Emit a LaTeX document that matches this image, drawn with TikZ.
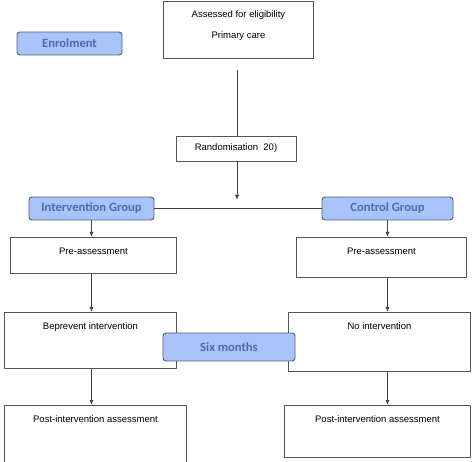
\documentclass[tikz,border=0pt]{standalone}
\usepackage{fontspec}
\setmainfont{Liberation Sans}
\newfontfamily\labelfont{Carlito}
\usetikzlibrary{arrows.meta}
\definecolor{boxline}{HTML}{555555}
\definecolor{arrowline}{HTML}{404040}
\definecolor{tagfill}{HTML}{A8C4F8}
\definecolor{tagline}{HTML}{4E5F7E}
\definecolor{tagtext}{HTML}{4A6BB0}
\begin{document}
\begin{tikzpicture}[x=1pt, y=-1pt,
    every node/.style={font=\fontsize{9.5}{11}\selectfont},
    stagebox/.style={draw=boxline, line width=0.9pt, fill=white, anchor=north west,
        inner ysep=10pt, text height=7pt},
    tagbox/.style={draw=tagline, line width=0.9pt, fill=tagfill, rounded corners=3pt,
        text=tagtext, font=\labelfont\bfseries\fontsize{12.6}{14}\selectfont},
    flow/.style={draw=arrowline, line width=0.9pt}]

        \useasboundingbox (0,0) rectangle (474,462);

        \node[draw=boxline, line width=0.9pt, anchor=north west, align=center, minimum width=150pt, minimum height=57pt] (Assess) at (163,1) {Assessed for eligibility\\[10pt]Primary care\\[0pt]\rule{0pt}{9pt}};
        \node[draw=boxline, line width=0.9pt, minimum width=120pt, minimum height=25pt] (Rand) at (236,148.5) {Randomisation\ \ 20)};
        \node[stagebox, minimum width=166pt, text depth=9pt] (PreI) at (10,237) {Pre-assessment};
        \node[stagebox, minimum width=170pt, text depth=13pt] (PreC) at (296,237) {Pre-assessment};
        \node[stagebox, minimum width=172pt, text depth=29pt] (IntI) at (4,312) {Beprevent intervention};
        \node[stagebox, minimum width=182pt, text depth=32pt] (NoC) at (288,312) {No intervention};
        \node[stagebox, minimum width=182pt, text depth=30pt] (PostI) at (4,405) {Post-intervention assessment};
        \node[stagebox, minimum width=186pt, text depth=25pt] (PostC) at (284,405) {Post-intervention assessment};

        \node[tagbox, minimum width=105pt, minimum height=23pt] (Enrol) at (69.5,43.5) {Enrolment};
        \node[tagbox, minimum width=125pt, minimum height=23pt] (IntG) at (91.5,208.5) {Intervention Group};
        \node[tagbox, minimum width=131pt, minimum height=23pt] (CtrlG) at (387.5,208.5) {Control Group};

        \coordinate (AssessEnd) at (237,70);
        \coordinate (RandTip) at (237,200);

        \draw[flow, -] (AssessEnd) to (AssessEnd |- Rand.north);
        \draw[flow, -{Latex[length=5pt,width=4pt]}] (AssessEnd |- Rand.south) to (RandTip);
        \draw[flow, -] (IntG) to (CtrlG);
        \draw[flow, -{Latex[length=5pt,width=4pt]}] (IntG.south) to (IntG.south |- PreI.north);
        \draw[flow, -{Latex[length=5pt,width=4pt]}] (CtrlG.south) to (CtrlG.south |- PreC.north);
        \draw[flow, -{Latex[length=5pt,width=4pt]}] (IntG.south |- PreI.south) to (IntG.south |- IntI.north);
        \draw[flow, -{Latex[length=5pt,width=4pt]}] (CtrlG.south |- PreC.south) to (CtrlG.south |- NoC.north);
        \draw[flow, -{Latex[length=5pt,width=4pt]}] (IntG.south |- IntI.south) to (IntG.south |- PostI.north);
        \draw[flow, -{Latex[length=5pt,width=4pt]}] (CtrlG.south |- NoC.south) to (CtrlG.south |- PostC.north);

        % la casella dei sei mesi sta sopra le altre
        \node[tagbox, minimum width=132pt, minimum height=28pt] (Six) at (229,347) {Six months};

\end{tikzpicture}
\end{document}
